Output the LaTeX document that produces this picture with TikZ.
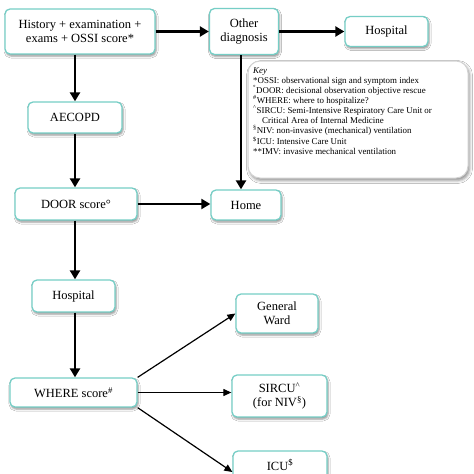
\documentclass[tikz,border=0pt]{standalone}
\usepackage{fontspec}
\setmainfont{Liberation Serif}
\usetikzlibrary{arrows.meta,shadows.blur}
\definecolor{boxc}{RGB}{118,206,198}
\definecolor{keyc}{RGB}{210,210,210}
\begin{document}
\begin{tikzpicture}[x=1pt,y=-1pt,
  box/.style={draw=boxc, line width=1.3pt, rounded corners=5pt, fill=white,
    align=center, font=\fontsize{12.5}{13.5}\selectfont, inner sep=0pt,
    blur shadow={shadow xshift=1pt, shadow yshift=-2pt, shadow blur radius=2pt, shadow opacity=45}},
  boxtext/.style={align=center, font=\fontsize{12.5}{13.5}\selectfont, inner sep=0pt},
  keybox/.style={draw=keyc, line width=1pt, rounded corners=12pt, fill=white,
    blur shadow={shadow xshift=1.5pt, shadow yshift=-2.5pt, shadow blur radius=3pt, shadow opacity=45}},
  keytext/.style={align=left, font=\fontsize{8.9}{10.1}\selectfont, inner sep=0pt},
  arr/.style={line width=2.3pt, -{Triangle[length=9pt,width=10pt]}},
  thinarr/.style={line width=1.2pt, -{Triangle[length=8pt,width=7pt]}}]
\useasboundingbox (0,0) rectangle (474,474);
\fill[white] (0,0) rectangle (474,474);

\node[box, minimum width=150pt, minimum height=45pt] (hist) at (80,31.5) {History + examination +\\ exams + OSSI score*};
\node[box, minimum width=69pt, minimum height=46pt] (other) at (244,31.5) {Other\\ diagnosis};
\node[box, minimum width=83pt, minimum height=30pt] (hosp1) at (386.5,31.5) {Hospital};
\node[box, minimum width=94pt, minimum height=31pt] (aecopd) at (75,117.5) {AECOPD};
\node[box, minimum width=122pt, minimum height=32pt] (door) at (76,204) {DOOR score°};
\node[box, minimum width=70pt, minimum height=30pt] (home) at (246,205) {Home};
\node[box, minimum width=83pt, minimum height=32pt] (hosp2) at (73.5,296) {Hospital};
\node[box, minimum width=127pt, minimum height=29pt] (where) at (73.5,392.5) {WHERE score\textsuperscript{\#}};
\node[box, minimum width=82pt, minimum height=39pt] (gw) at (277,313.5) {General\\ Ward};
\node[box, minimum width=95pt, minimum height=42pt] (sircu) at (279.5,396) {SIRCU\textsuperscript{\textasciicircum}\\ (for NIV\textsuperscript{§})};
\node[box, minimum width=94pt, minimum height=42pt] (icu) at (280,472) {};
\node[boxtext] (icut) at (280,465) {ICU\textsuperscript{\$}};

\node[keybox, minimum width=220pt, minimum height=117pt] (key) at (358,119.5) {};
\node[keytext, anchor=north west] (keyt) at (253,67) {\textit{Key}\\
*OSSI: observational sign and symptom index\\
\textsuperscript{°}DOOR: decisional observation objective rescue\\
\textsuperscript{\#}WHERE: where to hospitalize?\\
\textsuperscript{\textasciicircum}SIRCU: Semi-Intensive Respiratory Care Unit or\\
\hspace*{9pt}Critical Area of Internal Medicine\\
\textsuperscript{§}NIV: non-invasive (mechanical) ventilation\\
\textsuperscript{\$}ICU: Intensive Care Unit\\
**IMV: invasive mechanical ventilation};

\coordinate (vl) at (75,0);
\coordinate (vr) at (241,0);

\draw[arr] (hist) -- (other);
\draw[arr] (other) -- (hosp1);
\draw[arr] (hist.south -| vl) -- (aecopd.north -| vl);
\draw[arr] (aecopd.south -| vl) -- (door.north -| vl);
\draw[arr, line width=2pt] (door.east) -- (door.east -| home.west);
\draw[arr] (other.south -| vr) -- (home.north -| vr);
\draw[arr] (door.south -| vl) -- (hosp2.north -| vl);
\draw[arr] (hosp2.south -| vl) -- (where.north -| vl);
\draw[thinarr] (where.north east) -- (gw.west);
\draw[thinarr] (where.east) -- (where.east -| sircu.west);
\draw[thinarr] (where.south east) -- (icu.west);
\end{tikzpicture}
\end{document}
